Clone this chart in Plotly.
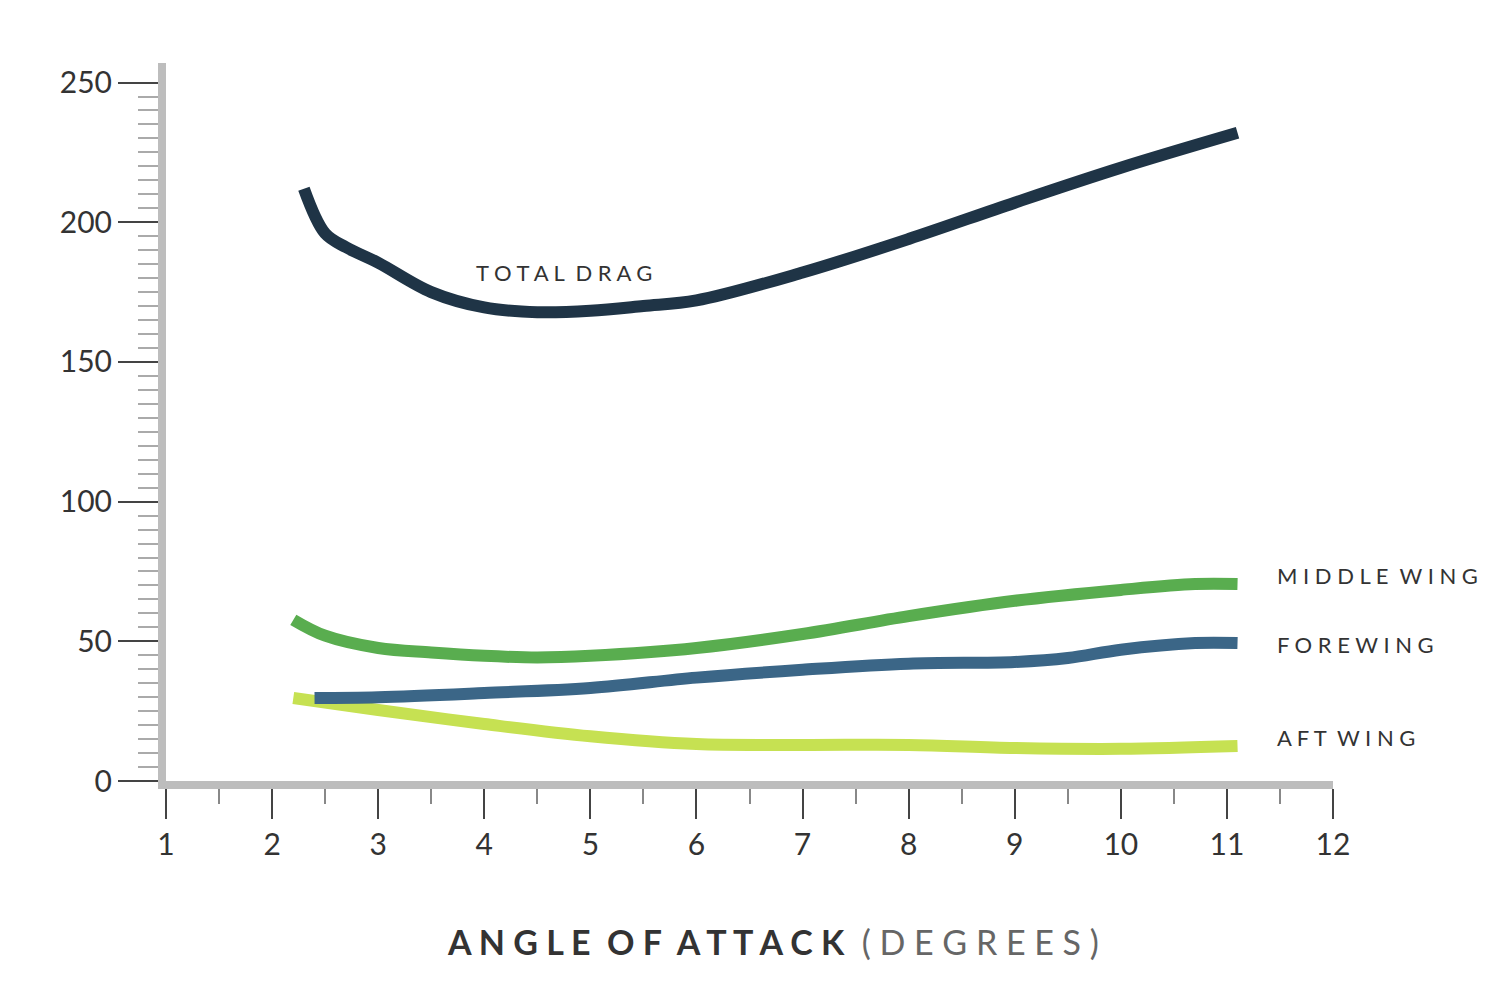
import plotly.graph_objects as go

# values
total_x = [2.3, 2.5, 2.7, 3.0, 3.5, 4.0, 4.5, 5.0, 5.5, 6.0, 7.0, 8.0, 9.0, 10.0, 11.1]
total_y = [212, 196, 191, 185.5, 175, 169.5, 167.8, 168.3, 170, 172, 182, 194, 207, 219.5, 232]

middle_x = [2.2, 2.5, 3.0, 3.5, 4.0, 4.5, 5.0, 6.0, 7.0, 8.0, 9.0, 10.0, 10.7, 11.1]
middle_y = [57.7, 52, 47.6, 46, 44.8, 44.2, 44.8, 47.6, 52.6, 59, 64.5, 68.4, 70.5, 70.5]

fore_x = [2.4, 3.0, 4.0, 5.0, 6.0, 7.0, 8.0, 9.0, 9.5, 10.0, 10.7, 11.1]
fore_y = [29.7, 30, 31.5, 33.3, 37, 39.8, 42, 42.6, 44, 47, 49.4, 49.4]

aft_x = [2.2, 3.0, 4.0, 5.0, 6.0, 7.0, 8.0, 9.0, 10.0, 11.1]
aft_y = [29.7, 25.4, 20.4, 16, 13.2, 12.9, 12.9, 11.8, 11.5, 12.5]

series = [
    ("Total drag", total_x, total_y, "#1f3446"),
    ("Aft wing", aft_x, aft_y, "#c6e152"),
    ("Forewing", fore_x, fore_y, "#3b6687"),
    ("Middle wing", middle_x, middle_y, "#59ad4f"),
]

fig = go.Figure()
for name, xs, ys, col in series:
    fig.add_trace(go.Scatter(x=xs, y=ys, mode="lines", name=name,
                             line=dict(color=col, width=12, shape="spline", smoothing=1.0)))

lab_font = dict(family="Lato, Open Sans, sans-serif", size=22, color="#333333")
fig.add_annotation(x=4.75, y=182, text="T O T A L  D R A G", showarrow=False, font=lab_font)
for txt, yv in [("M I D D L E  W I N G", 73.5), ("F O R E W I N G", 48.7), ("A F T  W I N G", 15.7)]:
    fig.add_annotation(x=11.45, y=yv, text=txt, showarrow=False, xanchor="left", font=lab_font)

fig.add_annotation(xref="paper", yref="paper", x=0.52, y=-0.255, showarrow=False,
                   text="<b>A N G L E  O F  A T T A C K</b>  <span style='color:#666'>( D E G R E E S )</span>",
                   font=dict(family="Lato, Open Sans, sans-serif", size=34, color="#333333"))

fig.update_layout(
    width=1500, height=1007, showlegend=False,
    plot_bgcolor="white", paper_bgcolor="white",
    margin=dict(l=158, r=175, t=55, b=234),
)
fig.update_xaxes(range=[1, 12], showgrid=False, zeroline=False,
                 showline=True, linewidth=8, linecolor="#bdbdbd",
                 tickmode="array", tickvals=list(range(1, 13)),
                 ticks="outside", ticklen=30, tickwidth=2, tickcolor="#444",
                 minor=dict(tickvals=[i + 0.5 for i in range(1, 12)], ticks="outside",
                            ticklen=15, tickwidth=2, tickcolor="#888"),
                 tickfont=dict(family="Lato, Open Sans, sans-serif", size=30, color="#333"))
fig.update_yaxes(range=[0, 257], showgrid=False, zeroline=False,
                 showline=True, linewidth=8, linecolor="#bdbdbd",
                 tickmode="array", tickvals=[0, 50, 100, 150, 200, 250],
                 ticks="outside", ticklen=40, tickwidth=2, tickcolor="#444",
                 minor=dict(tickvals=[v for v in range(5, 250, 5) if v % 50], ticks="outside",
                            ticklen=20, tickwidth=2, tickcolor="#aaa"),
                 tickfont=dict(family="Lato, Open Sans, sans-serif", size=30, color="#333"))

fig.write_html("out.html")
